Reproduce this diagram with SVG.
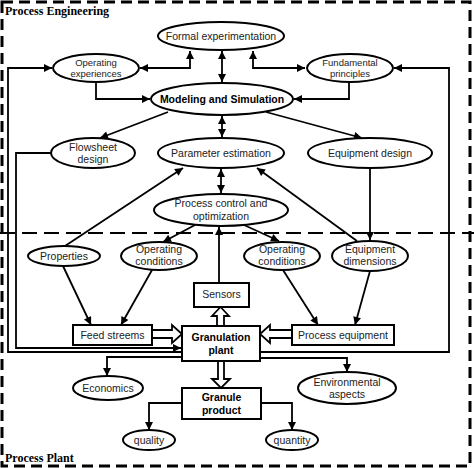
<svg xmlns="http://www.w3.org/2000/svg" width="474" height="468" viewBox="0 0 474 468">
<defs>
<marker id="ah" viewBox="0 0 10 10" refX="10" refY="5" markerUnits="userSpaceOnUse" markerWidth="10" markerHeight="8" orient="auto-start-reverse">
<path d="M0,0 L10,5 L0,10 z" fill="#000"/>
</marker>
</defs>
<style>
.n ellipse,.n rect{fill:#fff;stroke:#000;stroke-width:2}
.t{font-family:"Liberation Sans",Arial,sans-serif;font-size:10.5px;fill:#222;text-anchor:middle}
.s{font-size:9.5px}
.b{font-weight:bold;fill:#000}
.h{font-family:"Liberation Serif","Times New Roman",serif;font-size:12px;font-weight:bold;fill:#000}
.c path{fill:none;stroke:#000;stroke-width:1.8}
.e{marker-end:url(#ah)}
.d{marker-start:url(#ah);marker-end:url(#ah)}
.blk{fill:#fff;stroke:#000;stroke-width:1.8;stroke-linejoin:miter}
</style>
<rect x="0" y="0" width="474" height="468" fill="#fff"/>
<rect x="2" y="2" width="468" height="464" fill="none" stroke="#000" stroke-width="3" stroke-dasharray="11 6"/>
<line x1="0" y1="233" x2="474" y2="233" stroke="#000" stroke-width="2" stroke-dasharray="15 7"/>
<text class="h" x="5" y="15">Process Engineering</text>
<text class="h" x="5" y="462">Process Plant</text>

<g class="c">
<path class="d" d="M222,51 L222,82"/>
<path class="d" d="M190,51 L190,68 L140,68"/>
<path class="d" d="M253,51 L253,68 L305,68"/>
<path class="e" d="M96,82 L96,99 L150,99"/>
<path class="e" d="M349,82 L349,99 L294,99"/>
<path class="e" d="M168,112 L100,138"/>
<path class="d" d="M222,116 L222,137"/>
<path class="e" d="M266,112 L362,138"/>
<path class="d" d="M221,169 L221,193"/>
<path class="e" d="M65,246 L183,168"/>
<path class="e" d="M357,241 L257,168"/>
<path class="e" d="M370,169 L370,240"/>
<path class="e" d="M195,225 L163,242"/>
<path class="e" d="M244,225 L279,241"/>
<path class="e" d="M219,283 L219,227"/>
<path class="e" d="M63,266 L91,325"/>
<path class="e" d="M152,270 L121,325"/>
<path class="e" d="M283,270 L318,325"/>
<path class="e" d="M370,271 L355,325"/>
<path class="e" d="M51,153 L16,153 L16,348 L181,348"/>
<path class="e" d="M182,352 L8,352 L8,68 L52,68"/>
<path class="e" d="M260,352 L449,352 L449,68 L394,68"/>
<path class="e" d="M182,357 L107,357 L107,376"/>
<path class="e" d="M260,358 L347,358 L347,372"/>
<path class="e" d="M182,403 L149,403 L149,430"/>
<path class="e" d="M261,403 L292,403 L292,430"/>
<polygon class="blk" points="217,326 217,316 212,316 220.5,307 229,316 224,316 224,326"/>
<polygon class="blk" points="152,330 172,330 172,325 182,334 172,343 172,338 152,338"/>
<polygon class="blk" points="292,330 270,330 270,325 260,334 270,343 270,338 292,338"/>
<polygon class="blk" points="218,361 218,379 212,379 221,388 230,379 224,379 224,361"/>
</g>

<g id="formal" class="n"><ellipse cx="221" cy="36" rx="63" ry="14"/><text class="t" x="221" y="39.5">Formal experimentation</text></g>
<g id="opexp" class="n"><ellipse cx="96" cy="68" rx="43" ry="14"/><text class="t s" x="96" y="65.5">Operating</text><text class="t s" x="96" y="76.5">experiences</text></g>
<g id="fund" class="n"><ellipse cx="350" cy="68" rx="43" ry="14"/><text class="t s" x="350" y="65.5">Fundamental</text><text class="t s" x="350" y="76.5">principles</text></g>
<g id="model" class="n"><ellipse cx="222" cy="99" rx="71" ry="16"/><text class="t b" x="222" y="102.5">Modeling and Simulation</text></g>
<g id="flow" class="n"><ellipse cx="93" cy="153" rx="42" ry="15"/><text class="t" x="93" y="150.5">Flowsheet</text><text class="t" x="93" y="162.5">design</text></g>
<g id="param" class="n"><ellipse cx="221" cy="153" rx="63" ry="15"/><text class="t" x="221" y="156.5">Parameter estimation</text></g>
<g id="eqdes" class="n"><ellipse cx="370" cy="153" rx="62" ry="15"/><text class="t" x="370" y="156.5">Equipment design</text></g>
<g id="pco" class="n"><ellipse cx="221" cy="210" rx="67" ry="16"/><text class="t" x="221" y="207">Process control and</text><text class="t" x="221" y="220">optimization</text></g>
<g id="props" class="n"><ellipse cx="64" cy="256" rx="36" ry="10"/><text class="t" x="64" y="259.5">Properties</text></g>
<g id="opc1" class="n"><ellipse cx="159" cy="256" rx="38" ry="14"/><text class="t" x="159" y="252.5">Operating</text><text class="t" x="159" y="264.5">conditions</text></g>
<g id="opc2" class="n"><ellipse cx="282" cy="256" rx="38" ry="14"/><text class="t" x="282" y="252.5">Operating</text><text class="t" x="282" y="264.5">conditions</text></g>
<g id="eqdim" class="n"><ellipse cx="370" cy="256" rx="38" ry="15"/><text class="t" x="370" y="252.5">Equipment</text><text class="t" x="370" y="264.5">dimensions</text></g>
<g id="sensors" class="n"><rect x="194" y="283" width="55" height="24"/><text class="t" x="221.5" y="298">Sensors</text></g>
<g id="feed" class="n"><rect x="73" y="325" width="79" height="20"/><text class="t" x="112.5" y="338.5">Feed streems</text></g>
<g id="gran" class="n"><rect x="182" y="326" width="78" height="35"/><text class="t b" x="221" y="341">Granulation</text><text class="t b" x="221" y="354">plant</text></g>
<g id="proceq" class="n"><rect x="292" y="325" width="102" height="20"/><text class="t" x="343" y="338.5">Process equipment</text></g>
<g id="econ" class="n"><ellipse cx="108" cy="388" rx="35" ry="12"/><text class="t" x="108" y="391.5">Economics</text></g>
<g id="env" class="n"><ellipse cx="347" cy="388" rx="49" ry="16"/><text class="t" x="347" y="385.5">Environmental</text><text class="t" x="347" y="397.5">aspects</text></g>
<g id="product" class="n"><rect x="182" y="388" width="79" height="31"/><text class="t b" x="221.5" y="401">Granule</text><text class="t b" x="221.5" y="414">product</text></g>
<g id="quality" class="n"><ellipse cx="149" cy="440" rx="26" ry="10"/><text class="t" x="149" y="443.5">quality</text></g>
<g id="quantity" class="n"><ellipse cx="292" cy="440" rx="26" ry="10"/><text class="t" x="292" y="443.5">quantity</text></g>
</svg>
